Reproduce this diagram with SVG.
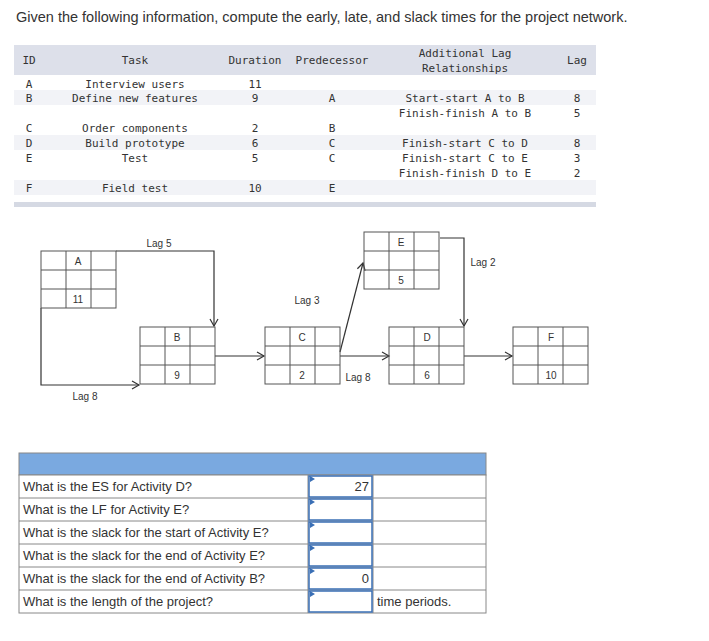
<svg xmlns="http://www.w3.org/2000/svg" width="709" height="641" viewBox="0 0 709 641">
<style>
.t{font-family:"Liberation Sans",Arial,sans-serif;fill:#333}
.m{font-family:"DejaVu Sans Mono","Liberation Mono",monospace;font-size:11px;fill:#333;text-anchor:middle}
.c{fill:none;stroke:#555;stroke-width:1}
.n{font-family:"Liberation Sans",Arial,sans-serif;font-size:10px;fill:#333;text-anchor:middle}
.k{fill:none;stroke:#333;stroke-width:1.2}
.q{font-family:"Liberation Sans",Arial,sans-serif;font-size:13px;fill:#333}
.ib{fill:#fff;stroke:#3a6fb5;stroke-width:1.5}
</style>
<defs>
<marker id="ar" markerWidth="10" markerHeight="10" refX="8" refY="5" orient="auto" markerUnits="userSpaceOnUse">
<path d="M1,1 L8,5 L1,9" fill="none" stroke="#333" stroke-width="1.2"/>
</marker>
<g id="cell3">
<rect x="0" y="0" width="75" height="57" class="c"/>
<path d="M25,0V57M50,0V57M0,19H75M0,38H75" class="c"/>
</g>
</defs>
<rect width="709" height="641" fill="#fff"/>
<text class="t" x="16" y="22" font-size="14.5">Given the following information, compute the early, late, and slack times for the project network.</text>
<g id="info-table">
<rect x="14" y="45" width="582" height="30" fill="#dde0ea"/>
<rect x="14" y="90" width="582" height="15" fill="#f2f3f7"/>
<rect x="14" y="135" width="582" height="15" fill="#f2f3f7"/>
<rect x="14" y="180" width="582" height="15" fill="#f2f3f7"/>
<rect x="14" y="202" width="582" height="5" fill="#d5d9e3"/>
<text class="m" x="29" y="64">ID</text><text class="m" x="135" y="64">Task</text><text class="m" x="255" y="64">Duration</text><text class="m" x="332" y="64">Predecessor</text>
<text class="m" x="465" y="57">Additional Lag</text><text class="m" x="465" y="72">Relationships</text><text class="m" x="577" y="64">Lag</text>
<text class="m" x="29" y="88">A</text><text class="m" x="135" y="88">Interview users</text><text class="m" x="255" y="88">11</text>
<text class="m" x="29" y="102">B</text><text class="m" x="135" y="102">Define new features</text><text class="m" x="255" y="102">9</text><text class="m" x="332" y="102">A</text><text class="m" x="465" y="102">Start-start A to B</text><text class="m" x="577" y="102">8</text>
<text class="m" x="465" y="117">Finish-finish A to B</text><text class="m" x="577" y="117">5</text>
<text class="m" x="29" y="132">C</text><text class="m" x="135" y="132">Order components</text><text class="m" x="255" y="132">2</text><text class="m" x="332" y="132">B</text>
<text class="m" x="29" y="147">D</text><text class="m" x="135" y="147">Build prototype</text><text class="m" x="255" y="147">6</text><text class="m" x="332" y="147">C</text><text class="m" x="465" y="147">Finish-start C to D</text><text class="m" x="577" y="147">8</text>
<text class="m" x="29" y="162">E</text><text class="m" x="135" y="162">Test</text><text class="m" x="255" y="162">5</text><text class="m" x="332" y="162">C</text><text class="m" x="465" y="162">Finish-start C to E</text><text class="m" x="577" y="162">3</text>
<text class="m" x="465" y="177">Finish-finish D to E</text><text class="m" x="577" y="177">2</text>
<text class="m" x="29" y="192">F</text><text class="m" x="135" y="192">Field test</text><text class="m" x="255" y="192">10</text><text class="m" x="332" y="192">E</text>
</g>
<g id="connectors">
<path d="M116,251H214V326" class="k" marker-end="url(#ar)"/>
<path d="M41,308V385H139" class="k" marker-end="url(#ar)"/>
<path d="M215,356H264" class="k" marker-end="url(#ar)"/>
<path d="M340,352L363,263" class="k" marker-end="url(#ar)"/>
<path d="M340,356H389" class="k" marker-end="url(#ar)"/>
<path d="M440,238H464V326" class="k" marker-end="url(#ar)"/>
<path d="M464,356H512" class="k" marker-end="url(#ar)"/>
<text class="n" x="159" y="247">Lag 5</text>
<text class="n" x="85" y="400">Lag 8</text>
<text class="n" x="307" y="304">Lag 3</text>
<text class="n" x="358" y="381">Lag 8</text>
<text class="n" x="483" y="266">Lag 2</text>
</g>
<g id="node-A"><use href="#cell3" x="41" y="251"/><text class="n" x="78" y="265">A</text><text class="n" x="78" y="303">11</text></g>
<g id="node-B"><use href="#cell3" x="140" y="327"/><text class="n" x="177" y="341">B</text><text class="n" x="177" y="379">9</text></g>
<g id="node-C"><use href="#cell3" x="265" y="327"/><text class="n" x="302" y="341">C</text><text class="n" x="302" y="379">2</text></g>
<g id="node-D"><use href="#cell3" x="389" y="327"/><text class="n" x="427" y="341">D</text><text class="n" x="427" y="379">6</text></g>
<g id="node-E"><use href="#cell3" x="364" y="232"/><text class="n" x="401" y="246">E</text><text class="n" x="401" y="284">5</text></g>
<g id="node-F"><use href="#cell3" x="513" y="327"/><text class="n" x="551" y="341">F</text><text class="n" x="551" y="379">10</text></g>
<g id="questions">
<rect x="19" y="453" width="467" height="22" fill="#7aa9e0" stroke="#888"/>
<rect x="19" y="475" width="467" height="138" fill="#fff" stroke="#888"/>
<path d="M19,498H486M19,521H486M19,544H486M19,567H486M19,590H486M308,475V613M373,475V613" stroke="#888" fill="none"/>
<rect x="309" y="476" width="63" height="21" class="ib"/>
<rect x="309" y="499" width="63" height="21" class="ib"/>
<rect x="309" y="522" width="63" height="21" class="ib"/>
<rect x="309" y="545" width="63" height="21" class="ib"/>
<rect x="309" y="568" width="63" height="21" class="ib"/>
<rect x="309" y="591" width="63" height="21" class="ib"/>
<path d="M310,476l5,3l-5,3zM310,499l5,3l-5,3zM310,522l5,3l-5,3zM310,545l5,3l-5,3zM310,568l5,3l-5,3zM310,591l5,3l-5,3z" fill="#3a6fb5"/>
<text class="q" x="23" y="491">What is the ES for Activity D?</text>
<text class="q" x="23" y="514">What is the LF for Activity E?</text>
<text class="q" x="23" y="537">What is the slack for the start of Activity E?</text>
<text class="q" x="23" y="560">What is the slack for the end of Activity E?</text>
<text class="q" x="23" y="583">What is the slack for the end of Activity B?</text>
<text class="q" x="23" y="606">What is the length of the project?</text>
<text class="q" x="369" y="491" text-anchor="end">27</text>
<text class="q" x="369" y="583" text-anchor="end">0</text>
<text class="q" x="377" y="606">time periods.</text>
</g>
</svg>
